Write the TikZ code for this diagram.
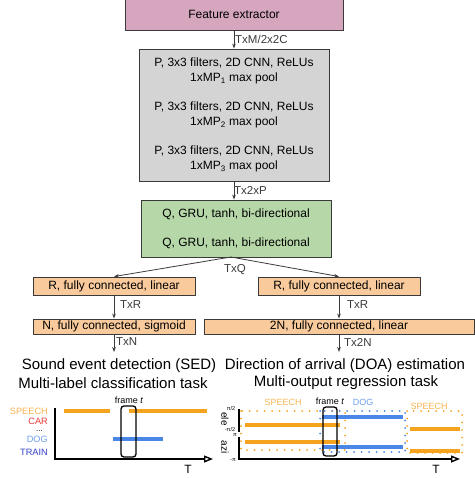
\documentclass[tikz,border=0pt]{standalone}
\usepackage{fontspec}
\setmainfont{Liberation Sans}
\usetikzlibrary{arrows.meta}
\definecolor{pinkf}{HTML}{D5A6BD}
\definecolor{grayf}{HTML}{D4D4D4}
\definecolor{greenf}{HTML}{B6D7A8}
\definecolor{orangef}{HTML}{F9CB9C}
\definecolor{bordc}{HTML}{3A3A3A}
\definecolor{spo}{HTML}{F5A21F}
\definecolor{spt}{HTML}{F6B352}
\definecolor{carr}{HTML}{E53935}
\definecolor{dogt}{HTML}{6D9EEB}
\definecolor{dogb}{HTML}{4A86E8}
\definecolor{trainb}{HTML}{3340C8}
\begin{document}
\begin{tikzpicture}[x=1pt,y=-1pt,
  box/.style={draw=bordc, line width=0.9pt, inner sep=0pt, align=center, font=\fontsize{12}{15}\selectfont},
  arr/.style={draw=bordc, line width=0.8pt, -{Stealth[length=5pt,width=3.6pt]}},
  lbl/.style={font=\fontsize{11.5}{13}\selectfont, inner sep=0pt, anchor=west, text=bordc},
  title/.style={font=\fontsize{15}{17}\selectfont, inner sep=0pt},
  cls/.style={font=\fontsize{9.2}{10}\selectfont, inner sep=0pt, anchor=east},
  small/.style={font=\fontsize{9}{10}\selectfont, inner sep=0pt},
  tick/.style={font=\fontsize{5.5}{6}\selectfont, inner sep=0pt},
  axl/.style={font=\fontsize{10}{10}\selectfont, inner sep=0pt, rotate=-90},
  bar/.style={line width=3.6pt},
  axisline/.style={line width=1.4pt, draw=black},
  axisarr/.style={line width=1.4pt, draw=black, -{Triangle[open,length=9pt,width=7pt]}},
  framebox/.style={line width=1.3pt, draw=black, rounded corners=3pt},
  dotbox/.style={line width=2pt, dash pattern=on 0pt off 7.5pt, line cap=round}
]
\useasboundingbox (0,0) rectangle (474,478);

% boxes
\node[box, fill=pinkf, minimum width=218pt, minimum height=31pt] (fe) at (234,14.5) {Feature extractor};
\node[box, fill=grayf, minimum width=190pt, minimum height=132pt] (cnn) at (234,115)
  {P, 3x3 filters, 2D CNN, ReLUs\\1xMP\textsubscript{1} max pool\\[14pt]
   P, 3x3 filters, 2D CNN, ReLUs\\1xMP\textsubscript{2} max pool\\[14pt]
   P, 3x3 filters, 2D CNN, ReLUs\\1xMP\textsubscript{3} max pool};
\node[box, fill=greenf, minimum width=190pt, minimum height=57pt] (gru) at (236,228.5)
  {Q, GRU, tanh, bi-directional\\[14pt]Q, GRU, tanh, bi-directional};
\node[box, fill=orangef, minimum width=162pt, minimum height=18pt] (r1) at (114,286) {R, fully connected, linear};
\node[box, fill=orangef, minimum width=162pt, minimum height=18pt] (r2) at (339,286) {R, fully connected, linear};
\node[box, fill=orangef, minimum width=162pt, minimum height=15pt] (n1) at (114,326.5) {N, fully connected, sigmoid};
\node[box, fill=orangef, minimum width=270pt, minimum height=15pt] (n2) at (339,326.5) {2N, fully connected, linear};

% connectors
\coordinate (split) at (231,257);
\coordinate (out1) at (114,352);
\coordinate (out2) at (339,352);
\draw[arr] (fe.south) -- (cnn.north);
\draw[arr] (cnn.south) -- (cnn.south |- gru.north);
\draw[arr] (split) -- (r1.north);
\draw[arr] (split) -- (r2.north);
\draw[arr] (r1.south) -- (n1.north);
\draw[arr] (r2.south) -- (n2.north);
\draw[arr] (n1.south) -- (out1);
\draw[arr] (n2.south) -- (out2);

\node[lbl] (l1) at (235,39) {TxM/2x2C};
\node[lbl] (l2) at (234,190) {Tx2xP};
\node[lbl, anchor=center] (l3) at (235,270) {TxQ};
\node[lbl] (l4) at (120,305) {TxR};
\node[lbl] (l5) at (347,305) {TxR};
\node[lbl] (l6) at (116,342) {TxN};
\node[lbl] (l7) at (344,342) {Tx2N};

% titles
\node[title] (t1) at (119,366) {Sound event detection (SED)};
\node[title] (t2) at (113,383) {Multi-label classification task};
\node[title] (t3) at (345,366) {Direction of arrival (DOA) estimation};
\node[title] (t4) at (346,383) {Multi-output regression task};

% left plot
\draw[axisarr] (55,408) -- (55,459) -- (213,459);
\node[small, font=\fontsize{12}{13}\selectfont] (tl) at (188,469) {T};
\node[cls, text=spt] (c1) at (48,411) {SPEECH};
\node[cls, text=carr] (c2) at (48,421) {CAR};
\node[cls, font=\fontsize{8}{8}\selectfont] (c3) at (43,431) {...};
\node[cls, text=dogt] (c4) at (48,439) {DOG};
\node[cls, text=trainb] (c5) at (48,452) {TRAIN};
\draw[bar, spo] (64,411) -- (110,411);
\draw[bar, spo] (129,411) -- (207,411);
\draw[bar, dogb] (113,439) -- (163,439);
\draw[framebox] (121,406) rectangle (136,457);
\node[small] (f1) at (129,400) {frame \textit{t}};

% right plot
\draw[axisline] (239,409) -- (239,432);
\draw[axisarr] (239,437) -- (239,459) -- (460,459);
\node[tick] at (231,409) {π/2};
\node[tick] at (230,430) {-π/2};
\node[tick] at (235,435) {π};
\node[tick] at (233,460) {-π};
\node[axl] at (225,419) {ele};
\node[axl] at (225,447) {azi};
\node[small, font=\fontsize{12}{13}\selectfont] (tr) at (436,469) {T};

\draw[dotbox, spo] (241,411) rectangle (345,450);
\draw[dotbox, dogb] (320,411) rectangle (405,452);
\draw[dotbox, spo] (407,411) rectangle (462,453);
\draw[bar, spo] (245,425) -- (340,425);
\draw[bar, spo] (245,442) -- (340,442);
\draw[bar, dogb] (322,417) -- (403,417);
\draw[bar, dogb] (322,447) -- (403,447);
\draw[bar, spo] (410,429) -- (460,429);
\draw[bar, spo] (410,451) -- (460,451);
\draw[framebox] (323,407) rectangle (337,456);
\node[small, text=spt] at (283,402) {SPEECH};
\node[small] at (330,401) {frame \textit{t}};
\node[small, text=dogt] at (363,402) {DOG};
\node[small, text=spt] at (429,406) {SPEECH};
\end{tikzpicture}
\end{document}
